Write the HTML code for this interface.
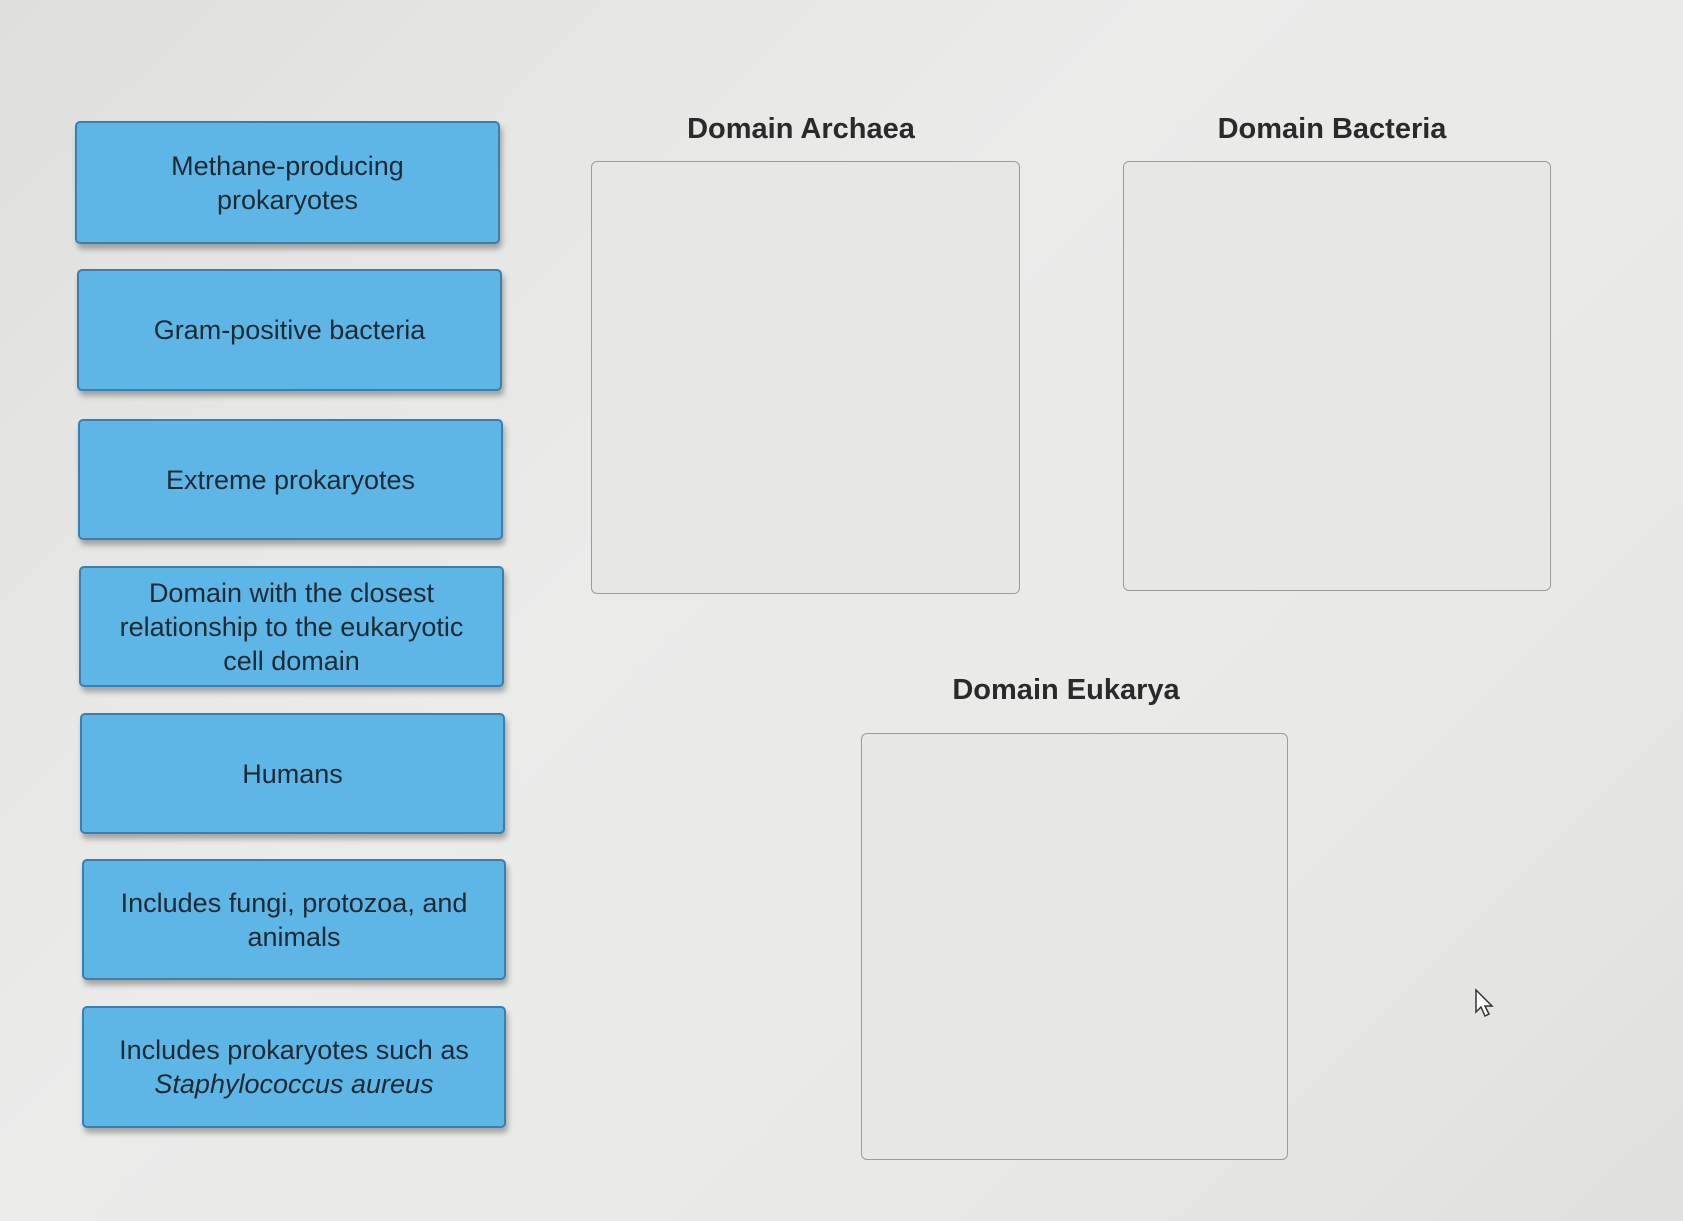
<!DOCTYPE html>
<html><head><style>
body{margin:0;width:1683px;height:1221px;overflow:hidden;background:linear-gradient(135deg,#dfdfdd 0%,#ebebea 40%,#e9e9e7 70%,#e0e0de 100%);font-family:"Liberation Sans",Arial,sans-serif;position:relative}
.c{position:absolute;box-sizing:border-box;background:#5db6e6;border:2px solid #3b7fae;border-radius:5px;box-shadow:2px 5px 6px rgba(0,0,0,0.3);display:flex;align-items:center;justify-content:center;text-align:center;font-size:27px;line-height:34px;color:#1e2a33;padding:0 18px}
.d{position:absolute;box-sizing:border-box;border:1.5px solid #9c9c9c;border-radius:6px;background:#e7e7e5}
.l{position:absolute;font-weight:bold;font-size:29px;color:#2a2a2a;transform:translateX(-50%);white-space:nowrap}
</style></head><body>
<div class="c" style="left:75px;top:121px;width:425px;height:123px"><div>Methane-producing<br>prokaryotes</div></div>
<div class="c" style="left:77px;top:269px;width:425px;height:122px"><div>Gram-positive bacteria</div></div>
<div class="c" style="left:78px;top:419px;width:425px;height:121px"><div>Extreme prokaryotes</div></div>
<div class="c" style="left:79px;top:566px;width:425px;height:121px"><div>Domain with the closest relationship to the eukaryotic cell domain</div></div>
<div class="c" style="left:80px;top:713px;width:425px;height:121px"><div>Humans</div></div>
<div class="c" style="left:82px;top:859px;width:424px;height:121px"><div>Includes fungi, protozoa, and animals</div></div>
<div class="c" style="left:82px;top:1006px;width:424px;height:122px"><div>Includes prokaryotes such as<br><i>Staphylococcus aureus</i></div></div>
<div class="l" style="left:801px;top:113px">Domain Archaea</div>
<div class="d" style="left:591px;top:161px;width:429px;height:433px"></div>
<div class="l" style="left:1332px;top:113px">Domain Bacteria</div>
<div class="d" style="left:1123px;top:161px;width:428px;height:430px"></div>
<div class="l" style="left:1066px;top:674px">Domain Eukarya</div>
<div class="d" style="left:861px;top:733px;width:427px;height:427px"></div>
<svg style="position:absolute;left:1474px;top:988px" width="24" height="32"><path d="M2 2 L2 24 L7 19 L11 28 L15 26 L11 18 L18 18 Z" fill="#fff" stroke="#333" stroke-width="1.5"/></svg>
</body></html>
